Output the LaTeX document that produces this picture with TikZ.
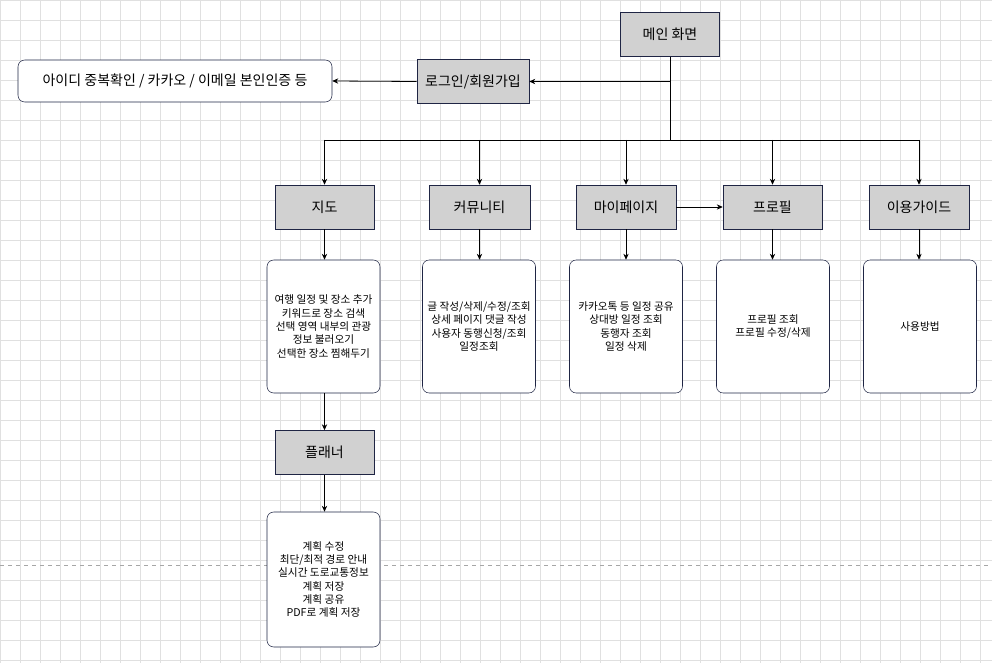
\documentclass[tikz,border=0pt]{standalone}
\usepackage{fontspec}
\setmainfont{Noto Sans CJK KR}
\usetikzlibrary{arrows.meta}
\definecolor{bd}{HTML}{1F2544}
\tikzset{
 hdr/.style={draw=bd,fill=black!18,minimum width=99*0.75pt,minimum height=44*0.75pt,font=\fontsize{10.5}{12}\selectfont,inner sep=1pt},
 det/.style={draw=bd,fill=white,rounded corners=5pt,minimum width=113*0.75pt,minimum height=133*0.75pt,align=center,font=\fontsize{8}{10}\selectfont,inner sep=1pt},
 arr/.style={-{Stealth[length=4.5pt,width=4pt]},black,line width=0.6pt},
 ln/.style={black,line width=0.6pt},
 gl/.style={black!12,line width=0.4pt}
}
\begin{document}
\begin{tikzpicture}[x=0.75pt,y=-0.75pt]
\useasboundingbox (0,0) rectangle (992,663);
\fill[white] (0,0) rectangle (992,663);
\foreach \i in {0,20,...,980}{\draw[gl] (\i,0) -- (\i,663);}
\foreach \j in {0,20,...,660}{\draw[gl] (0,\j) -- (992,\j);}
\draw[black!35,dashed,line width=0.5pt] (0,565) -- (992,565);
\node[hdr] (main) at (670,34.5) {메인 화면};
\node[hdr,minimum width=112*0.75pt] (login) at (473,81.5) {로그인/회원가입};
\node[draw=bd,fill=white,rounded corners=5pt,minimum width=314*0.75pt,minimum height=42*0.75pt,font=\fontsize{10.5}{12}\selectfont] (id) at (175,81) {아이디 중복확인 / 카카오 / 이메일 본인인증 등};
\node[hdr] (map) at (324.5,207) {지도};
\node[hdr,minimum width=101*0.75pt] (com) at (479.5,207) {커뮤니티};
\node[hdr,minimum width=100*0.75pt] (my) at (626,207) {마이페이지};
\node[hdr] (prof) at (772.5,207) {프로필};
\node[hdr,minimum width=100*0.75pt] (guide) at (919,207) {이용가이드};
\node[det] (d1) at (323.5,326.5) {여행 일정 및 장소 추가\\키워드로 장소 검색\\선택 영역 내부의 관광\\정보 불러오기\\선택한 장소 찜해두기};
\node[det] (d2) at (479,326.5) {글 작성/삭제/수정/조회\\상세 페이지 댓글 작성\\사용자 동행신청/조회\\일정조회};
\node[det] (d3) at (626,326.5) {카카오톡 등 일정 공유\\상대방 일정 조회\\동행자 조회\\일정 삭제};
\node[det] (d4) at (773,326.5) {프로필 조회\\프로필 수정/삭제};
\node[det] (d5) at (920,326.5) {사용방법};
\node[hdr] (plan) at (324.5,452.5) {플래너};
\node[det,minimum height=135*0.75pt] (d6) at (323.5,579.5) {계획 수정\\최단/최적 경로 안내\\실시간 도로교통정보\\계획 저장\\계획 공유\\PDF로 계획 저장};
\coordinate (b) at (670,140);
\draw[ln] (main.south) -- (b);
\draw[arr] (670,81.5) -- (login.east);
\draw[arr] (login.west) -- (id.east);
\draw[ln] (324.5,140) -- (919,140);
\foreach \n in {map,com,my,prof,guide}{\draw[arr] (\n.north |- b) -- (\n.north);}
\draw[arr] (my.east) -- (prof.west);
\draw[arr] (map.south) -- (map.south |- d1.north);
\draw[arr] (com.south) -- (com.south |- d2.north);
\draw[arr] (my.south) -- (my.south |- d3.north);
\draw[arr] (prof.south) -- (prof.south |- d4.north);
\draw[arr] (guide.south) -- (guide.south |- d5.north);
\draw[arr] (map.south |- d1.south) -- (plan.north);
\draw[arr] (plan.south) -- (plan.south |- d6.north);
\end{tikzpicture}
\end{document}
